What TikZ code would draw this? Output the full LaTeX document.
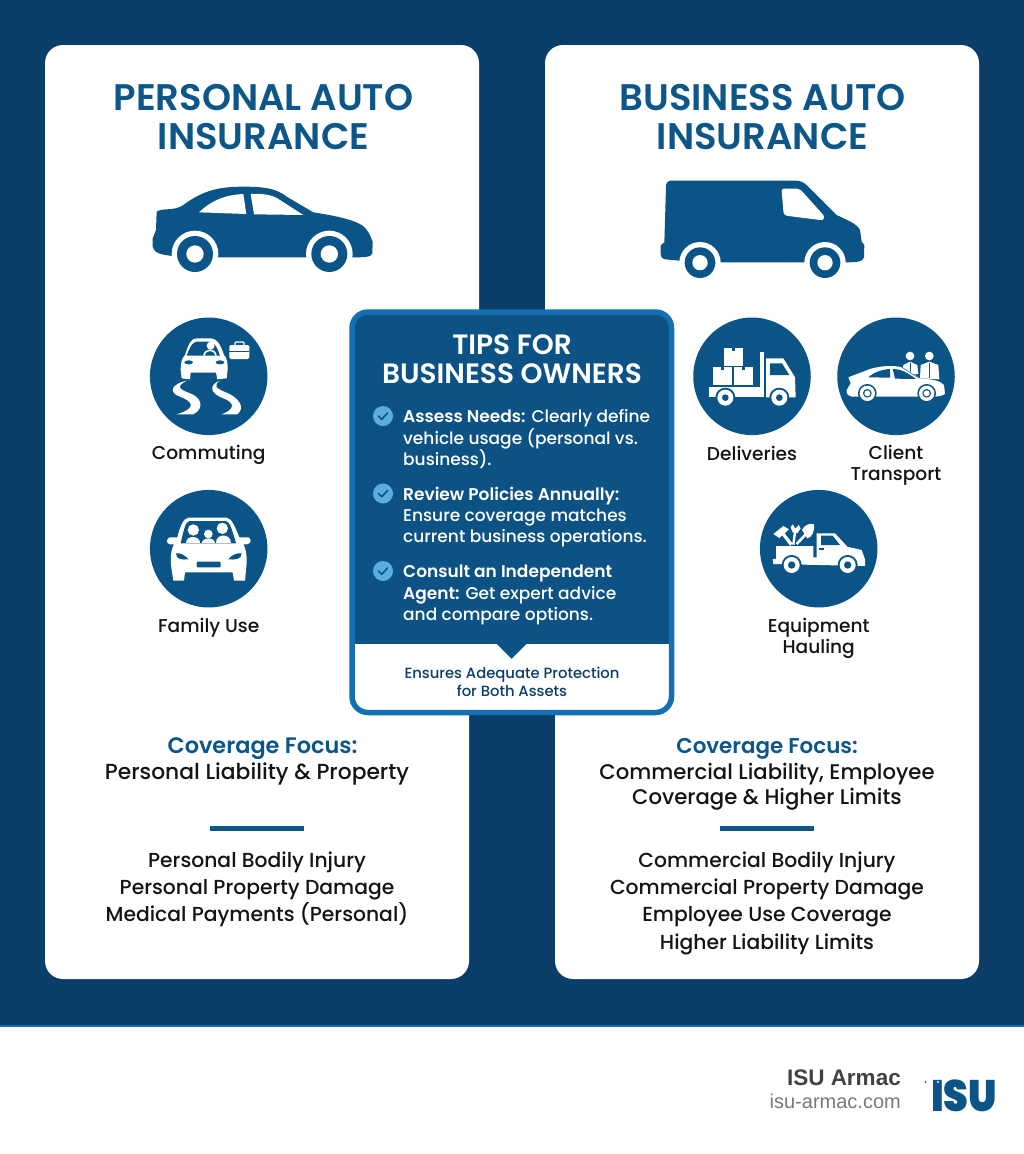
\documentclass[tikz,border=0pt]{standalone}
\usepackage{fontspec}
\setmainfont{Poppins Medium}[BoldFont={Poppins SemiBold}]
\newfontfamily\footfont{Liberation Sans}
\newfontfamily\logofont{Poppins Black}
\usetikzlibrary{calc}
\definecolor{navy}{RGB}{10, 61, 104}
\definecolor{isublue}{RGB}{11, 84, 135}
\definecolor{headblue}{RGB}{12, 86, 136}
\definecolor{panelblue}{RGB}{13, 82, 133}
\definecolor{panelrim}{RGB}{20, 112, 176}
\definecolor{tick}{RGB}{92, 172, 224}
\definecolor{footgrey}{RGB}{120, 120, 120}
\definecolor{footdark}{RGB}{66, 66, 66}
\definecolor{inktext}{RGB}{20, 20, 24}
\tikzset{
    card/.style={fill=white, rounded corners=18},
    headline/.style={headblue, align=center, font=\fontsize{37}{39}\selectfont\bfseries},
    badge/.style={circle, fill=isublue, minimum size=117.5, inner sep=0},
    badgelabel/.style={inktext, align=center, font=\fontsize{18.6}{21.5}\selectfont},
    focus/.style={headblue, font=\fontsize{21.4}{25}\selectfont\bfseries},
    covertext/.style={inktext, align=center, font=\fontsize{20.3}{27.3}\selectfont},
    tiptext/.style={white, align=left, anchor=north west, inner sep=0, font=\fontsize{17}{21.3}\selectfont},
}
\begin{document}
\begin{tikzpicture}[x=1pt, y=-1pt]
    \useasboundingbox (0,0) rectangle (1024,1154);

    \fill[navy] (0,0) rectangle (1024,1026);
    \fill[panelrim] (0,1024.5) rectangle (1024,1027);

    % the two cards, the step is hidden behind the panel
    \fill[card] (45,45) -- (479,45) -- (479,512) -- (469,512) -- (469,979) -- (45,979) -- cycle;
    \fill[card] (545,45) -- (979,45) -- (979,979) -- (555,979) -- (555,512) -- (545,512) -- cycle;

    \node[headline] (personalTitle) at (263.5,117.5) {PERSONAL AUTO\\INSURANCE};
    \node[headline] (businessTitle) at (762.5,117.5) {BUSINESS AUTO\\INSURANCE};

    % sedan
    \begin{scope}[shift={(130,170)}, scale=1/3]
        \fill[isublue] (68,205) .. controls (68,195) and (78,190) .. (78,180) -- (80,125) .. controls (100,112) and (130,125) .. (160,105)
            .. controls (220,60) and (270,50) .. (340,50) .. controls (400,50) and (440,55) .. (470,80) -- (550,127)
            .. controls (600,135) and (660,145) .. (695,165) .. controls (715,180) and (720,195) .. (728,215) -- (727,250) .. controls (725,262) and (700,262) .. (668,262)
            -- (530,262) -- (262,262) -- (128,258) .. controls (100,255) and (70,250) .. (68,230) -- cycle;
        \fill[white] (207,127) .. controls (240,95) and (280,75) .. (340,72) -- (349,132) -- cycle;
        \fill[white] (362,72) .. controls (400,70) and (430,75) .. (450,90) -- (520,135) -- (372,133) -- cycle;
        \foreach \wx in {195,598}{
            \fill[white] (\wx,252) circle (70);
        }
        \fill[white] (100,264) rectangle (290,330);
        \fill[white] (500,264) rectangle (700,330);
        \foreach \wx in {195,598}{
            \fill[isublue] (\wx,252) circle (54);
            \fill[white] (\wx,252) circle (26);
        }
    \end{scope}

    % van
    \begin{scope}[shift={(640,170)}, scale=1/3]
        \fill[isublue] (90,32) -- (470,32) .. controls (485,33) and (495,40) .. (505,50) -- (590,135) .. controls (620,150) and (650,160) .. (660,180)
            -- (665,215) -- (673,225) -- (672,262) .. controls (670,275) and (650,277) .. (620,277) -- (243,277) -- (118,272) -- (75,268)
            .. controls (65,265) and (62,260) .. (62,250) -- (62,228) .. controls (62,222) and (70,220) .. (73,218) -- (78,50) .. controls (78,40) and (82,33) .. (90,32) -- cycle;
        \fill[white] (425,62) .. controls (425,55) and (430,56) .. (440,56) -- (470,56) .. controls (480,56) and (485,62) .. (490,68) -- (550,135)
            .. controls (555,145) and (550,152) .. (540,150) -- (445,138) .. controls (435,137) and (430,132) .. (430,122) -- cycle;
        \foreach \wx in {180,555}{
            \fill[white] (\wx,278) circle (62);
        }
        \fill[white] (100,279) rectangle (260,340);
        \fill[white] (480,279) rectangle (640,340);
        \foreach \wx in {180,555}{
            \fill[isublue] (\wx,278) circle (46);
            \fill[white] (\wx,278) circle (23);
        }
    \end{scope}

    \node[badge] (commuteDisc) at (208.7,376.3) {};
    \node[badge] (familyDisc) at (208.7,548.7) {};
    \node[badge] (deliveryDisc) at (752,376.3) {};
    \node[badge] (clientDisc) at (896,376.3) {};
    \node[badge] (equipmentDisc) at (818.7,548.7) {};

    % car with briefcase on a winding road
    \begin{scope}[shift={(130,170)}, scale=1/3]
        \fill[white] (200,505) -- (240,505) .. controls (262,505) and (272,525) .. (282,555) .. controls (292,565) and (293,580) .. (293,600) -- (290,625) -- (262,628) -- (258,608) -- (182,608) -- (180,628) -- (155,625) -- (152,600) .. controls (152,580) and (155,565) .. (165,555) .. controls (175,525) and (182,505) .. (200,505) -- cycle;
        \fill[isublue] (200,515) -- (240,515) .. controls (255,517) and (262,535) .. (270,557) -- (170,557) .. controls (178,535) and (185,517) .. (200,515) -- cycle;
        \fill[white] (242,527) circle (12);
        \draw[white, line width=1.6] (222,557) .. controls (225,535) and (255,535) .. (258,557);
        \fill[isublue] (176,577) ellipse (13 and 6);
        \fill[isublue] (270,577) ellipse (13 and 6);
        % briefcase
        \draw[white, line width=1.3, rounded corners=1] (315,527) -- (315,516) -- (342,516) -- (342,527);
        \fill[white, rounded corners=1.5] (298,525) rectangle (358,567);
        \draw[isublue, line width=.7] (298,544) -- (358,544);
        % road
        \fill[white] (170,632) .. controls (130,640) and (110,665) .. (150,680) .. controls (190,695) and (200,715) .. (140,733) -- (190,733) .. controls (225,715) and (215,680) .. (175,668) .. controls (140,655) and (145,645) .. (170,632) -- cycle;
        \fill[white] (270,632) .. controls (235,645) and (240,670) .. (280,685) .. controls (320,700) and (310,720) .. (275,733) -- (322,733) .. controls (350,710) and (320,680) .. (290,668) .. controls (255,655) and (250,645) .. (270,632) -- cycle;
    \end{scope}

    % family car
    \begin{scope}[shift={(140,480)}, scale=1/3]
        \fill[white] (145,113) -- (260,113) .. controls (275,115) and (285,140) .. (298,172) -- (325,172) .. controls (335,175) and (335,192) .. (320,193) -- (310,193) .. controls (320,210) and (322,240) .. (318,270) -- (315,302) -- (282,302) -- (278,277) -- (135,277) -- (132,302) -- (100,302) -- (95,270) .. controls (90,240) and (92,210) .. (102,193) -- (90,193) .. controls (78,192) and (78,175) .. (90,172) -- (112,172) .. controls (120,140) and (130,115) .. (145,113) -- cycle;
        \fill[isublue] (148,123) -- (258,123) .. controls (270,125) and (278,155) .. (288,190) -- (122,190) .. controls (130,155) and (136,125) .. (148,123) -- cycle;
        \foreach \hx/\hy/\hr in {160/150/17, 205/162/13, 247/145/17}{
            \fill[white] (\hx,\hy) circle (\hr);
        }
        \fill[white] (138,190) .. controls (138,165) and (180,165) .. (180,190) -- cycle;
        \fill[white] (185,190) .. controls (185,172) and (225,172) .. (225,190) -- cycle;
        \fill[white] (228,190) .. controls (228,160) and (272,160) .. (272,190) -- cycle;
        \fill[isublue] (108,220) .. controls (120,218) and (135,225) .. (145,238) .. controls (125,240) and (108,238) .. (108,220) -- cycle;
        \fill[isublue] (305,220) .. controls (290,218) and (275,225) .. (265,238) .. controls (285,240) and (305,238) .. (305,220) -- cycle;
        \fill[isublue, rounded corners=1] (170,245) rectangle (242,262);
    \end{scope}

    % delivery truck
    \begin{scope}[shift={(640,170)}, scale=1/3]
        \foreach \bx/\by in {220/590, 282/590, 252/533}{
            \fill[white] (\bx,\by) rectangle ++(57,54);
            \fill[isublue] (\bx+24,\by) rectangle ++(8,10);
        }
        \fill[white] (360,545) rectangle (372,660);
        \fill[white] (208,650) rectangle (372,680);
        \fill[white] (378,565) -- (430,565) -- (465,622) -- (467,682) -- (378,682) -- cycle;
        \fill[isublue] (390,580) -- (426,580) -- (448,615) -- (390,615) -- cycle;
        \foreach \wx in {256,418}{
            \fill[isublue] (\wx,683) circle (30);
            \fill[white] (\wx,683) circle (24);
            \fill[isublue] (\wx,683) circle (10);
        }
    \end{scope}

    % sedan and two clients
    \begin{scope}[shift={(640,170)}, scale=1/3]
        \foreach \px in {810,868}{
            \fill[white] (\px,558) circle (13);
        }
        \fill[white] (788,612) -- (790,585) -- (810,575) -- (832,585) -- (835,612) -- cycle;
        \fill[white] (840,625) -- (842,585) -- (868,575) -- (895,585) -- (898,628) -- cycle;
        \draw[isublue, line width=.5] (810,578) -- (810,610) (868,578) -- (868,625);
        \fill[white] (620,660) -- (632,640) -- (625,622) .. controls (650,612) and (670,605) .. (690,597) .. controls (730,585) and (775,585) .. (800,597) -- (840,625) .. controls (880,628) and (900,632) .. (912,645) -- (915,672) .. controls (900,682) and (880,680) .. (860,680) -- (680,680) -- (635,680) .. controls (622,675) and (618,670) .. (620,660) -- cycle;
        \draw[isublue, line width=.5] (786,592) -- (838,625);
        \fill[isublue] (685,622) .. controls (700,608) and (725,598) .. (750,597) -- (750,623) -- cycle;
        \fill[isublue] (758,597) .. controls (785,597) and (805,610) .. (828,627) -- (765,626) -- cycle;
        \foreach \wx in {682,860}{
            \fill[isublue] (\wx,670) circle (28);
            \fill[white] (\wx,670) circle (23);
            \fill[isublue] (\wx,670) circle (13);
            \fill[white] (\wx,670) circle (9);
        }
    \end{scope}

    % pickup with tools
    \begin{scope}[shift={(750,480)}, scale=1/3]
        \fill[white] (78,198) -- (190,198) -- (190,232) -- (200,232) -- (200,160) -- (255,160) -- (292,200) -- (335,210) -- (345,238) -- (345,258) -- (70,252) -- (68,238) -- (78,236) -- cycle;
        \fill[isublue] (213,167) -- (248,167) -- (270,195) -- (213,195) -- cycle;
        \fill[isublue] (208,205) rectangle (222,209);
        \foreach \wx in {125,293}{
            \fill[isublue] (\wx,255) circle (30);
            \fill[white] (\wx,255) circle (24);
            \fill[isublue] (\wx,255) circle (11);
        }
        % hammer, wrench, shovel
        \draw[white, line width=3.2] (124,194) -- (92,152);
        \fill[white] (70,162) -- (100,138) -- (117,148) -- (88,174) -- cycle;
        \draw[white, line width=2.4] (130,194) -- (136,150);
        \fill[white] (122,142) -- (128,133) -- (136,146) -- (146,135) -- (152,145) -- (142,160) -- (128,157) -- cycle;
        \draw[white, line width=2.6] (140,192) -- (170,160);
        \fill[white] (156,150) .. controls (163,135) and (180,128) .. (192,133) .. controls (194,155) and (186,172) .. (172,175) -- cycle;
    \end{scope}

    \node[badgelabel] (commuteLabel) at (208.7,455) {Commuting};
    \node[badgelabel] (familyLabel) at (208.7,628) {Family Use};
    \node[badgelabel] (deliveryLabel) at (752,453.5) {Deliveries};
    \node[badgelabel] (clientLabel) at (896,465.5) {Client\\Transport};
    \node[badgelabel] (equipmentLabel) at (818.7,638.5) {Equipment\\Hauling};

    % panel in the middle
    \fill[panelblue, rounded corners=16] (352,312) rectangle (671.5,712.5);
    \fill[white] (355,644) -- (496.7,644) -- (511.7,659) -- (526.7,644) -- (669,644) [rounded corners=11] -- (669,710) -- (355,710) [sharp corners] -- cycle;
    \draw[panelrim, line width=5.5, rounded corners=16] (352,312) rectangle (671.5,712.5);

    \node[white, align=center, font=\fontsize{28}{29}\selectfont\bfseries] (tipsTitle) at (512,359) {TIPS FOR\\BUSINESS OWNERS};

    \foreach \ty in {416,493.5,571}{
        \fill[tick] (383,\ty) circle (10);
        \draw[panelblue, line width=1.6, line cap=round, line join=round] (378.5,\ty) -- (381.8,\ty+3.2) -- (387.5,\ty-3);
    }
    \node[tiptext] (tipAssess) at (403,409.5) {\textbf{Assess Needs:} Clearly define\\vehicle usage (personal vs.\\business).};
    \node[tiptext] (tipReview) at (403,486.5) {\textbf{Review Policies Annually:}\\Ensure coverage matches\\current business operations.};
    \node[tiptext] (tipAgent) at (403,565) {\textbf{Consult an Independent}\\\textbf{Agent:} Get expert advice\\and compare options.};

    \node[align=center, color=navy, font=\fontsize{14.8}{18}\selectfont] (panelNote) at (512,682) {Ensures Adequate Protection\\for Both Assets};

    % coverage
    \node[focus, font=\fontsize{22.4}{25}\selectfont\bfseries] (personalFocus) at (262.5,749) {Coverage Focus:};
    \node[covertext, font=\fontsize{21.8}{25}\selectfont] (personalLine) at (257,774) {Personal Liability \& Property};
    \fill[headblue] (210,825.5) rectangle (304,830.5);
    \node[covertext] (personalList) at (257,889.5) {Personal Bodily Injury\\Personal Property Damage\\Medical Payments (Personal)};

    \node[focus] (businessFocus) at (767,749) {Coverage Focus:};
    \node[covertext, font=\fontsize{21.2}{25}\selectfont] (businessLine) at (767,786.5) {Commercial Liability, Employee\\Coverage \& Higher Limits};
    \fill[headblue] (720,825.5) rectangle (814,830.5);
    \node[covertext] (businessList) at (767,903) {Commercial Bodily Injury\\Commercial Property Damage\\Employee Use Coverage\\Higher Liability Limits};

    % footer
    \node[anchor=east, inner sep=0, footdark, font=\footfont\bfseries\fontsize{22.5}{24}\selectfont] (brandName) at (901,1078) {ISU Armac};
    \node[anchor=east, inner sep=0, footgrey, font=\footfont\fontsize{20}{22}\selectfont] (brandUrl) at (901,1101) {isu-armac.com};
    \node[inner sep=0, isublue, xscale=.9, transform shape, font=\logofont\fontsize{44}{44}\selectfont] (brandLogo) at (964,1095.5) {ISU};
    \fill[isublue] (925.5,1082) circle (1);
    \fill[white] (938,1082) circle (1.2);
\end{tikzpicture}
\end{document}
